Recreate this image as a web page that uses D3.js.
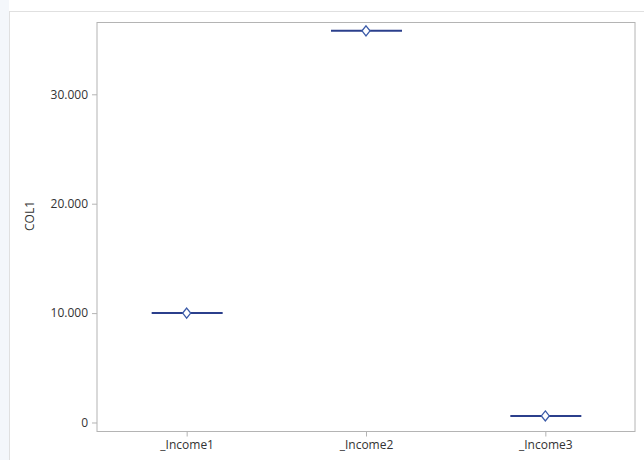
<!DOCTYPE html>
<html>
<head>
<meta charset="utf-8">
<script src="https://cdn.jsdelivr.net/npm/d3@7"></script>
<style>
  body { margin: 0; background: #fff; }
  svg { display: block; }
</style>
</head>
<body>
<div id="chart"></div>
<script>
// data
var categories = ["_Income1", "_Income2", "_Income3"];
var values = [10000, 35800, 600];
var yTicks = [0, 10000, 20000, 30000];

var W = 644, H = 460;
var margin = { top: 22.5, right: 9, bottom: 28.5, left: 97 },
  width = W - margin.left - margin.right,
  height = H - margin.top - margin.bottom;

var svg = d3
  .select("#chart")
  .append("svg")
  .attr("width", W)
  .attr("height", H);

// outer panel
svg.append("rect").attr("x", 0).attr("y", 0).attr("width", 9).attr("height", H).attr("fill", "#f4f7fb");
svg.append("rect")
  .attr("x", 9.5).attr("y", 11.5)
  .attr("width", W).attr("height", H)
  .attr("fill", "#fff")
  .attr("stroke", "#e0e0e0");

var g = svg.append("g").attr("transform", "translate(" + margin.left + "," + margin.top + ")");

var x = d3.scalePoint().domain(categories).range([0, width]).padding(0.5);
var y = d3.scaleLinear().domain([-823, 36563]).range([height, 0]);

var fmt = function(d) {
  return d3.format(",")(d).replace(/,/g, ".");
};

// frame
g.append("rect")
  .attr("x", 0).attr("y", 0)
  .attr("width", width).attr("height", height)
  .attr("fill", "none")
  .attr("stroke", "#b4b4b4");

var yAxis = g.append("g")
  .call(d3.axisLeft(y).tickValues(yTicks).tickFormat(fmt).tickSize(5).tickPadding(4));
var xAxis = g.append("g")
  .attr("transform", "translate(0," + height + ")")
  .call(d3.axisBottom(x).tickSize(5).tickPadding(4));

[yAxis, xAxis].forEach(function(a) {
  a.select(".domain").remove();
  a.selectAll(".tick line").attr("stroke", "#b4b4b4");
  a.selectAll(".tick text")
    .attr("fill", "#333")
    .attr("font-family", "'Open Sans', sans-serif")
    .attr("font-size", 12);
});

svg.append("text")
  .attr("transform", "translate(34,216) rotate(-90)")
  .attr("text-anchor", "middle")
  .attr("fill", "#333")
  .attr("font-family", "'Open Sans', sans-serif")
  .attr("font-size", 12)
  .text("COL1");

var data = categories.map(function(c, i) { return { cat: c, val: values[i] }; });

var marks = g.selectAll(".mark").data(data).enter().append("g")
  .attr("class", "mark")
  .attr("transform", function(d) { return "translate(" + x(d.cat) + "," + y(d.val) + ")"; });

marks.append("line")
  .attr("x1", -35).attr("x2", 36)
  .attr("y1", 0).attr("y2", 0)
  .attr("stroke", "#2b3f8c")
  .attr("stroke-width", 2);

marks.append("path")
  .attr("d", "M0,-5L4,0L0,5L-4,0Z")
  .attr("fill", "#fff")
  .attr("stroke", "#3a5aa8")
  .attr("stroke-width", 1.3);
</script>
</body>
</html>
